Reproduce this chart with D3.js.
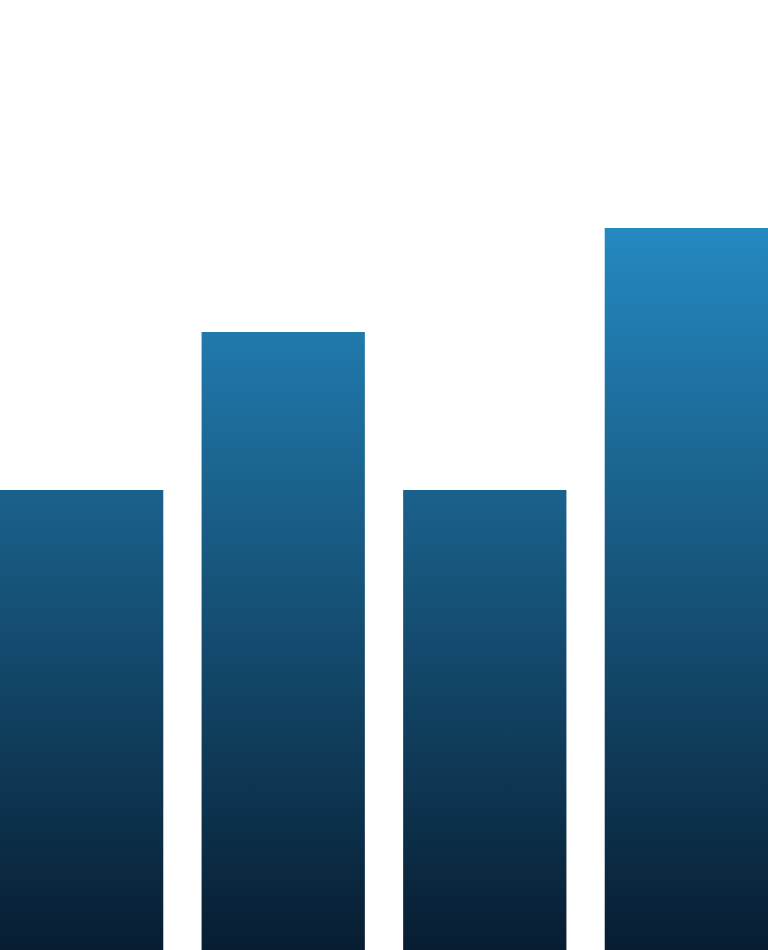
<!DOCTYPE html>
<html>
<head>
<meta charset="utf-8">
<script src="https://cdn.jsdelivr.net/npm/d3@7"></script>
<style>
  html, body { margin: 0; padding: 0; background: #fff; overflow: hidden; }
  svg { display: block; }
</style>
</head>
<body>
<svg width="768" height="950"></svg>
<script>
// data
const categories = ["A", "B", "C", "D"]
const values = [46, 61.8, 46, 72.2]

const width = 768, height = 950

const svg = d3.select("svg")

const x = d3.scaleBand()
  .domain(categories)
  .range([0, width])
  .paddingInner(0.19)
  .paddingOuter(0)

const y = d3.scaleLinear()
  .domain([0, 95])
  .range([height, 0])

// one gradient shared by all bars, in page space
const grad = svg.append("defs").append("linearGradient")
  .attr("id", "barGrad")
  .attr("gradientUnits", "userSpaceOnUse")
  .attr("x1", 0).attr("x2", 0)
  .attr("y1", y(d3.max(values)))
  .attr("y2", y(0))
grad.append("stop").attr("offset", "0%").attr("stop-color", "#2589c1")
grad.append("stop").attr("offset", "100%").attr("stop-color", "#071d31")

svg.selectAll("rect")
  .data(values)
  .enter()
  .append("rect")
  .attr("x", (d, i) => x(categories[i]))
  .attr("width", x.bandwidth())
  .attr("y", d => y(d))
  .attr("height", d => y(0) - y(d))
  .attr("fill", "url(#barGrad)")
</script>
</body>
</html>
